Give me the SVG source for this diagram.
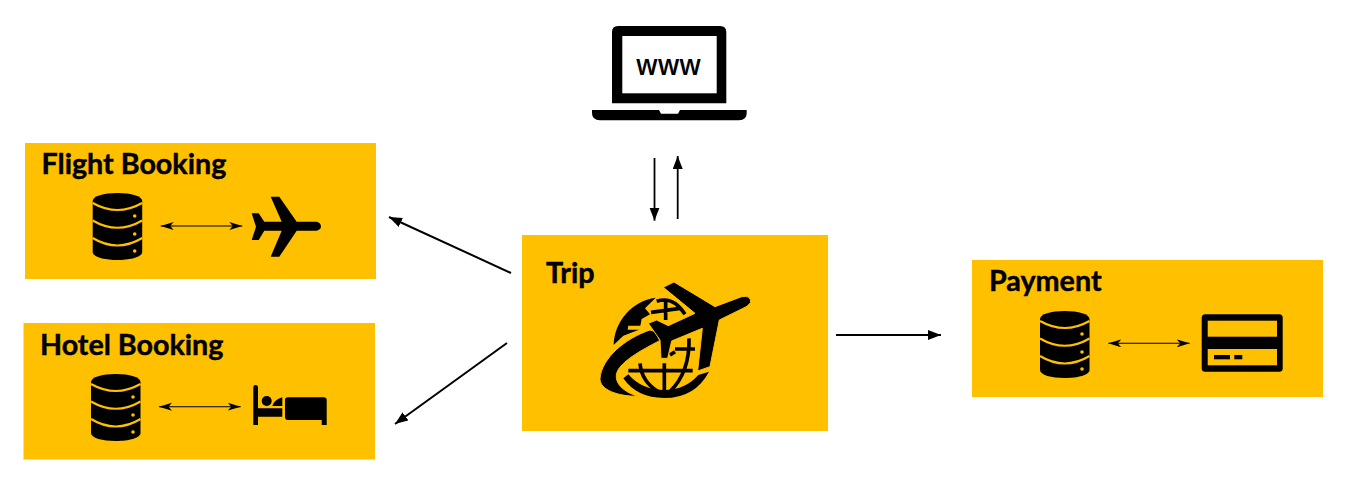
<svg xmlns="http://www.w3.org/2000/svg" width="1358" height="490" viewBox="0 0 1358 490">
<style>
.box{fill:#ffc000}
.lbl{font-family:"Lato","Liberation Sans",sans-serif;font-weight:700;font-size:28.7px;fill:#000;stroke:#000;stroke-width:.45}
.k{fill:#000}
.g{fill:#ffc000}
.conn{stroke:#000;fill:none}
.main{stroke-width:2}
.v{stroke-width:1.8}
.thin{stroke-width:1.1}
</style>
<defs>
<marker id="a" markerUnits="userSpaceOnUse" markerWidth="14" markerHeight="12" refX="13" refY="5" orient="auto"><path d="M0,0L13,5L0,10Z" fill="#000"/></marker>
<marker id="s" markerUnits="userSpaceOnUse" markerWidth="14" markerHeight="10" refX="13" refY="4" orient="auto-start-reverse"><path d="M0,0L13,4L0,8L3.5,4Z" fill="#000"/></marker>
<g id="db">
<path class="k" d="M0,8C0,3 11,0 24.7,0S49.5,3 49.5,8V59C49.5,64 38,67 24.7,67S0,64 0,59Z"/>
<path d="M0,10Q24.7,24 49.5,10M0,27.5Q24.7,42 49.5,27.5M0,45Q24.7,60 49.5,45" fill="none" stroke="#ffc000" stroke-width="2.2"/>
<circle class="g" cx="42" cy="23" r="1.8"/><circle class="g" cx="42" cy="41" r="1.8"/><circle class="g" cx="42" cy="58" r="1.8"/>
</g>
</defs>
<g id="laptop">
<path class="k" d="M612,103.3V32Q612,26 618,26H720Q726.3,26 726.3,32V103.3Z"/>
<rect x="622.3" y="36" width="94.4" height="57.3" fill="#fff"/>
<text x="636" y="75" textLength="65" lengthAdjust="spacingAndGlyphs" font-family="'Open Sans',sans-serif" font-weight="600" font-size="28">www</text>
<path class="k" d="M592,110H659L661,113.7H678L680,110H746.7V113Q746.7,120.3 739,120.3H600Q592,120.3 592,113Z"/>
</g>
<g id="flight">
<rect class="box" x="25" y="143" width="351" height="136"/>
<text class="lbl" x="41.5" y="174">Flight Booking</text>
<use href="#db" x="92.7" y="193"/>
<path class="k" d="M270.7,196.7H279.3L296.7,221.7H316.7Q321,223 321,226.5Q321,229.5 316.7,230.7H296.7L279.3,256.7H270.7L281.7,230.7H264.3L258.7,240H251.7L256,226.7L251.7,213.3H258.7L264.3,221.7H281.7Z"/>
</g>
<g id="hotel">
<rect class="box" x="23.5" y="323" width="351.5" height="136.5"/>
<text class="lbl" x="40" y="355">Hotel Booking</text>
<use href="#db" x="91" y="374"/>
<g id="bed">
<path class="k" d="M253.3,425V387Q253.3,385 255.5,385Q258,385 258,387V408.3H282.3V416.7H258V425Z"/>
<circle class="k" cx="266.7" cy="401" r="5"/>
<path class="k" d="M272.3,406Q274,400 282.3,397.3V406Z"/>
<path class="k" d="M285,400Q285,397.3 288,397.3H323.7Q326.7,397.3 326.7,400V425H321.7V420H288Q285,420 285,417Z"/>
</g>
</g>
<g id="trip">
<rect class="box" x="522" y="235" width="306" height="196"/>
<text class="lbl" x="546" y="283">Trip</text>
<g transform="translate(595 275) scale(.3333)">
<path class="k" d="M56,210C58,140 110,78 182,68L150,100L165,118L140,132L136,152L100,152L98,164L132,164L85,182Z"/>
<path class="conn" stroke-width="11" d="M185,79Q235,62 270,118M212,76V135M168,112L255,100"/>
<path class="conn" stroke-width="11" d="M100,287H293M208,265V355M135,265Q140,320 190,350M282,190Q285,290 225,350M240,222H300M240,230L225,240"/>
<path class="k" d="M85,310L100,298Q140,345 208,345Q270,345 310,300L342,290Q300,369 208,369Q125,369 85,310Z"/>
<path class="k" stroke="#ffc000" stroke-width="3" d="M165,165C90,190 20,250 15,310C13,345 70,364 128,364C85,350 58,325 65,295C75,260 140,225 194,197L182,170Z"/>
<path class="k" stroke="#ffc000" stroke-width="3" d="M205,37L237,21L360,95L440,65Q468,60 467,82Q460,95 440,102L373,135L345,275L308,288L322,160L230,198L218,250L198,250L195,195L160,145L185,135L220,152L300,115Z"/>
</g>
</g>
<g id="payment">
<rect class="box" x="972" y="260" width="351" height="137"/>
<text class="lbl" x="989" y="291">Payment</text>
<use href="#db" x="1040" y="311"/>
<g id="card">
<rect class="k" x="1201.7" y="314.3" width="81" height="57.4" rx="3.5"/>
<rect class="g" x="1207.7" y="320.7" width="69.3" height="16"/>
<rect class="g" x="1207.7" y="349" width="69.3" height="16.3"/>
<rect class="k" x="1214" y="355" width="16" height="4.3"/>
<rect class="k" x="1234.3" y="355" width="8" height="4.3"/>
</g>
</g>
<g id="connectors">
<path class="conn v" marker-end="url(#a)" d="M654.5,158V220.7"/>
<path class="conn v" marker-end="url(#a)" d="M677.7,219V156"/>
<path class="conn main" marker-end="url(#a)" d="M511,273L389,217"/>
<path class="conn main" marker-end="url(#a)" d="M507,343L395,424"/>
<path class="conn main" marker-end="url(#a)" d="M836,335H941"/>
<path class="conn thin" marker-start="url(#s)" marker-end="url(#s)" d="M160.7,226H242.3"/>
<path class="conn thin" marker-start="url(#s)" marker-end="url(#s)" d="M159,406.7H240.7"/>
<path class="conn thin" marker-start="url(#s)" marker-end="url(#s)" d="M1108.3,343.3H1189.7"/>
</g>
</svg>
